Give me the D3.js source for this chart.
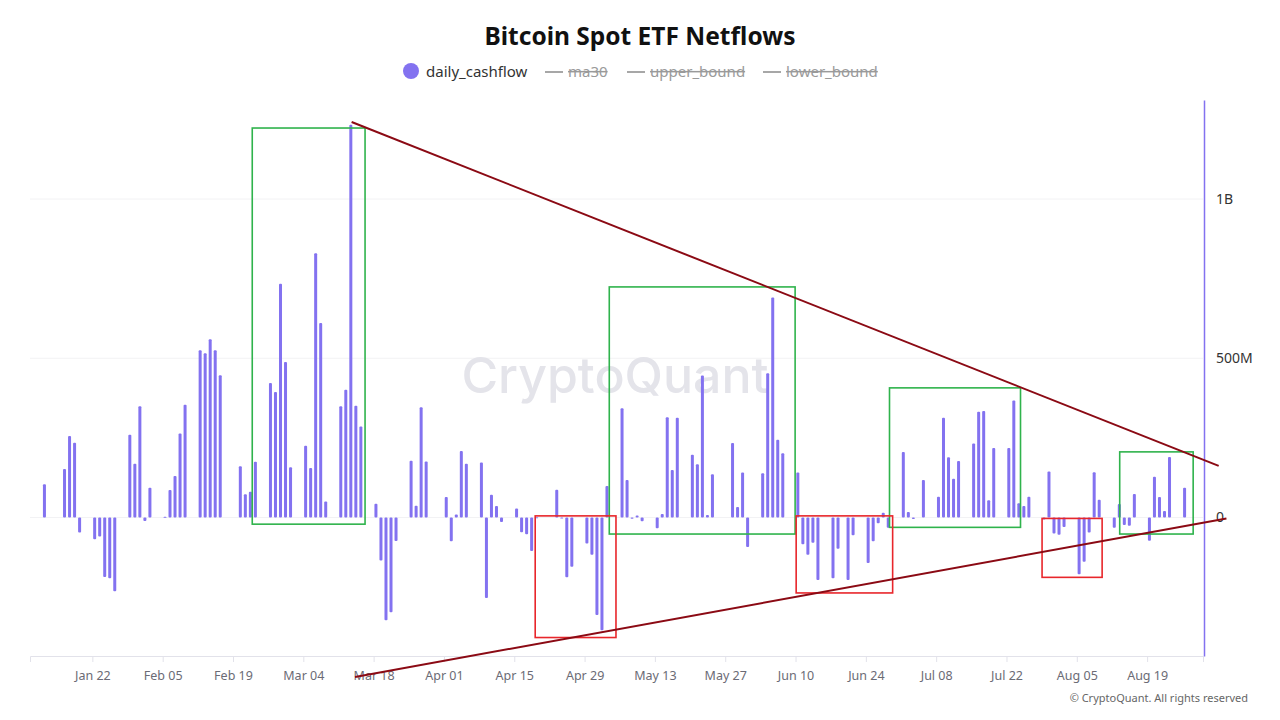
<!DOCTYPE html>
<html>
<head>
<meta charset="utf-8">
<script src="https://cdn.jsdelivr.net/npm/d3@7"></script>
<style>
  html, body { margin: 0; padding: 0; background: #fff; }
  svg { display: block; font-family: "Noto Sans", "Open Sans", sans-serif; }
</style>
</head>
<body>
<svg id="chart" width="1280" height="720"></svg>
<script>
// ---- data (values in millions USD) ----
const dates = [
  "2024-01-12","2024-01-16","2024-01-17","2024-01-18","2024-01-19",
  "2024-01-22","2024-01-23","2024-01-24","2024-01-25","2024-01-26",
  "2024-01-29","2024-01-30","2024-01-31","2024-02-01","2024-02-02",
  "2024-02-05","2024-02-06","2024-02-07","2024-02-08","2024-02-09",
  "2024-02-12","2024-02-13","2024-02-14","2024-02-15","2024-02-16",
  "2024-02-20","2024-02-21","2024-02-22","2024-02-23",
  "2024-02-26","2024-02-27","2024-02-28","2024-02-29","2024-03-01",
  "2024-03-04","2024-03-05","2024-03-06","2024-03-07","2024-03-08",
  "2024-03-11","2024-03-12","2024-03-13","2024-03-14","2024-03-15",
  "2024-03-18","2024-03-19","2024-03-20","2024-03-21","2024-03-22",
  "2024-03-25","2024-03-26","2024-03-27","2024-03-28",
  "2024-04-01","2024-04-02","2024-04-03","2024-04-04","2024-04-05",
  "2024-04-08","2024-04-09","2024-04-10","2024-04-11","2024-04-12",
  "2024-04-15","2024-04-16","2024-04-17","2024-04-18","2024-04-19",
  "2024-04-23","2024-04-24","2024-04-25","2024-04-26",
  "2024-04-29","2024-04-30","2024-05-01","2024-05-02","2024-05-03",
  "2024-05-06","2024-05-07","2024-05-08","2024-05-09","2024-05-10",
  "2024-05-13","2024-05-14","2024-05-15","2024-05-16","2024-05-17",
  "2024-05-20","2024-05-21","2024-05-22","2024-05-23","2024-05-24",
  "2024-05-28","2024-05-29","2024-05-30","2024-05-31",
  "2024-06-03","2024-06-04","2024-06-05","2024-06-06","2024-06-07",
  "2024-06-10","2024-06-11","2024-06-12","2024-06-13","2024-06-14",
  "2024-06-17","2024-06-18","2024-06-20","2024-06-21",
  "2024-06-24","2024-06-25","2024-06-26","2024-06-27","2024-06-28",
  "2024-07-01","2024-07-02","2024-07-03","2024-07-05",
  "2024-07-08","2024-07-09","2024-07-10","2024-07-11","2024-07-12",
  "2024-07-15","2024-07-16","2024-07-17","2024-07-18","2024-07-19",
  "2024-07-22","2024-07-23","2024-07-24","2024-07-25","2024-07-26",
  "2024-07-29","2024-07-30","2024-07-31","2024-08-01","2024-08-02",
  "2024-08-05","2024-08-06","2024-08-07","2024-08-08","2024-08-09",
  "2024-08-12","2024-08-13","2024-08-14","2024-08-15","2024-08-16",
  "2024-08-19","2024-08-20","2024-08-21","2024-08-22","2024-08-23",
  "2024-08-26"
];
const dailyCashflow = [
  104, 152, 256, 235, -47,
  -68, -60, -187, -191, -232,
  260, 169, 349, -11, 93,
  2, 86, 130, 264, 354,
  525, 516, 560, 525, 447,
  161, 73, 81, 175,
  422, 394, 734, 488, 158,
  225, 155, 830, 611, 50,
  349, 401, 1233, 351, 286,
  43, -135, -323, -298, -74,
  178, 37, 346, 176,
  64, -75, 9, 209, 169,
  173, -253, 71, 36, -14,
  28, -46, -53, -105, 1,
  87, -2, -188, -155,
  -82, -117, -306, -354, 99,
  343, 118, -4, 6, -12,
  -34, 11, 315, 149, 313,
  197, 167, 446, 8, 136,
  234, 33, 141, -93,
  139, 453, 691, 244, 202,
  141, -84, -117, -79, -196,
  -191, -98, -196, -56,
  -143, -75, -18, 15, -32,
  206, 17, -5, 118,
  65, 313, 189, 122, 177,
  232, 332, 334, 54, 218,
  218, 367, 45, 36, 65,
  -6, 144, -50, -54, -30,
  -178, -139, -47, 142, 56,
  -32, 42, -24, -26, 74,
  -73, 128, 64, 20, 190,
  93
];

const xTickDates = ["2024-01-22","2024-02-05","2024-02-19","2024-03-04","2024-03-18","2024-04-01",
  "2024-04-15","2024-04-29","2024-05-13","2024-05-27","2024-06-10","2024-06-24",
  "2024-07-08","2024-07-22","2024-08-05","2024-08-19"];
const yTickValues = [0, 500, 1000];
const yTickLabels = ["0", "500M", "1B"];

// annotations (date, value in millions)
const greenBoxes = [
  {x0:"2024-02-22T20:00", x1:"2024-03-16T07:00", y0:-21, y1:1223},
  {x0:"2024-05-03T22:00", x1:"2024-06-09T22:00", y0:-52, y1:724},
  {x0:"2024-06-28T17:00", x1:"2024-07-24T19:00", y0:-31, y1:407},
  {x0:"2024-08-13T13:00", x1:"2024-08-28T04:00", y0:-52, y1:206}
];
const redBoxes = [
  {x0:"2024-04-19T04:00", x1:"2024-05-05T06:00", y0:-377, y1:5},
  {x0:"2024-06-10T03:00", x1:"2024-06-29T08:00", y0:-237, y1:5},
  {x0:"2024-07-29T02:00", x1:"2024-08-10T01:00", y0:-188, y1:-3}
];
const upperTrend = [{d:"2024-03-13T15:00", v:1242}, {d:"2024-09-02T06:00", v:162}];
const lowerTrend = [{d:"2024-03-14T07:00", v:-501}, {d:"2024-09-03T19:00", v:-3.5}];

const legendItems = ["daily_cashflow", "ma30", "upper_bound", "lower_bound"];

// ---- chart ----
const svg = d3.select("#chart");
const plot = {left: 30, right: 1203, top: 100, bottom: 656};
const parse = s => new Date(s);
const BAR = "#8372f0";

const x = d3.scaleTime()
  .domain([parse("2024-01-09T14:00"), parse("2024-08-30T03:00")])
  .range([plot.left, plot.right]);
const y = d3.scaleLinear()
  .domain([-435, 1311])
  .range([plot.bottom, plot.top]);

// gridlines
svg.append("g").selectAll("line").data(yTickValues).join("line")
  .attr("x1", plot.left).attr("x2", plot.right)
  .attr("y1", d => y(d)).attr("y2", d => y(d))
  .attr("stroke", "#f2f2f4").attr("stroke-width", 1);

// watermark
svg.append("text")
  .attr("x", 615).attr("y", 393)
  .attr("text-anchor", "middle")
  .attr("font-family", "Inter, 'Noto Sans', sans-serif")
  .attr("font-size", 50).attr("font-weight", 500)
  .attr("fill", "#e4e4ea")
  .text("CryptoQuant");

// x axis
const xAxis = d3.axisBottom(x)
  .tickValues(xTickDates.map(parse))
  .tickFormat(d3.timeFormat("%b %d"))
  .tickSize(6).tickPadding(9);
const gx = svg.append("g").attr("transform", `translate(0,${plot.bottom})`).call(xAxis);
gx.select(".domain").attr("stroke", "#e2e2ea");
gx.selectAll(".tick line").attr("stroke", "#e2e2ea");
gx.selectAll(".tick text").attr("fill", "#6b6b75").attr("font-size", 12.5)
  .attr("font-family", "'Noto Sans', sans-serif");

// y axis (right)
const yAxis = d3.axisRight(y)
  .tickValues(yTickValues)
  .tickFormat((d, i) => yTickLabels[i])
  .tickSize(0).tickPadding(12);
const gy = svg.append("g").attr("transform", `translate(${plot.right + 1},0)`).call(yAxis);
gy.select(".domain").attr("stroke", BAR).attr("stroke-width", 1.5);
gy.selectAll(".tick text").attr("fill", "#333").attr("font-size", 14)
  .attr("font-family", "'Noto Sans', sans-serif");

// bars
const data = dates.map((d, i) => ({date: d3.timeHour.offset(parse(d + "T00:00"), 11), v: dailyCashflow[i]}));
svg.append("g").selectAll("rect").data(data).join("rect")
  .attr("x", d => x(d.date) - 1.5)
  .attr("width", 3)
  .attr("y", d => Math.min(y(d.v), y(0)))
  .attr("height", d => Math.max(1, Math.abs(y(d.v) - y(0))))
  .attr("rx", 1)
  .attr("fill", BAR);

// boxes
function drawBoxes(arr, color) {
  svg.append("g").selectAll("rect").data(arr).join("rect")
    .attr("x", d => x(parse(d.x0)))
    .attr("y", d => y(d.y1))
    .attr("width", d => x(parse(d.x1)) - x(parse(d.x0)))
    .attr("height", d => y(d.y0) - y(d.y1))
    .attr("fill", "none").attr("stroke", color).attr("stroke-width", 1.6);
}
drawBoxes(greenBoxes, "#2fb34c");
drawBoxes(redBoxes, "#e8262b");

// trend lines
const line = d3.line().x(d => x(parse(d.d))).y(d => y(d.v));
[upperTrend, lowerTrend].forEach(t => {
  svg.append("path").datum(t).attr("d", line)
    .attr("fill", "none").attr("stroke", "#8b0a14").attr("stroke-width", 2);
});

// title
svg.append("text")
  .attr("x", 640).attr("y", 45).attr("text-anchor", "middle")
  .attr("font-size", 24.5).attr("font-weight", 700).attr("fill", "#111")
  .text("Bitcoin Spot ETF Netflows");

// legend
const lg = svg.append("g").attr("font-size", 15);
lg.append("circle").attr("cx", 411).attr("cy", 71).attr("r", 8).attr("fill", BAR);
lg.append("text").attr("x", 426).attr("y", 77).attr("fill", "#333").text(legendItems[0]);
const lineItems = [
  {lx: 545, tx: 568, label: legendItems[1]},
  {lx: 627, tx: 650, label: legendItems[2]},
  {lx: 763, tx: 786, label: legendItems[3]}
];
lineItems.forEach(it => {
  lg.append("line").attr("x1", it.lx).attr("x2", it.lx + 18).attr("y1", 72).attr("y2", 72)
    .attr("stroke", "#8a8a8a").attr("stroke-width", 1.5);
  lg.append("text").attr("x", it.tx).attr("y", 77).attr("fill", "#9a9a9a")
    .attr("text-decoration", "line-through").text(it.label);
});

// copyright
svg.append("text")
  .attr("x", 1248).attr("y", 702).attr("text-anchor", "end")
  .attr("font-size", 11).attr("fill", "#666")
  .text("© CryptoQuant. All rights reserved");
</script>
</body>
</html>
